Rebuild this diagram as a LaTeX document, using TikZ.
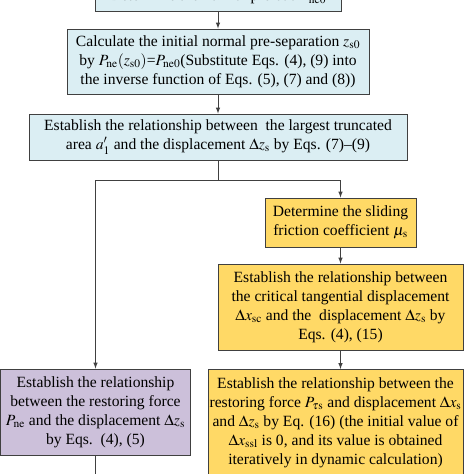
\documentclass[tikz,border=0pt]{standalone}
\usepackage{amsmath}
\usepackage{mathptmx}
\usepackage[no-math]{fontspec}
\setmainfont{Liberation Serif}
\usepackage{tikz}
\usetikzlibrary{calc}
\usepackage{xcolor}
\definecolor{boxblue}{RGB}{219,238,243}
\definecolor{boxyellow}{RGB}{255,217,102}
\definecolor{boxpurple}{RGB}{204,192,218}
\definecolor{edgegray}{RGB}{64,64,64}

\begin{document}
\begin{tikzpicture}[x=1pt,y=-1pt,>=latex]
  \clip (0,0) rectangle (474,474);
  \tikzstyle{box}=[draw=edgegray, line width=1pt, align=center, inner sep=0pt,
    font=\fontsize{15.6}{19}\selectfont]
  \tikzstyle{flow}=[draw=edgegray, line width=1pt]
  \node[box, fill=boxblue, minimum width=246, minimum height=28] (pA) at (218,-3)
    {Determine the normal preload $P_{\mathrm{ne0}}$};
  \node[box, fill=boxblue, minimum width=302, minimum height=65] (pB) at (218,61.5)
    {Calculate the initial normal pre-separation $z_{\mathrm{s0}}$\\
     by $P_{\mathrm{ne}}(z_{\mathrm{s0}})$=$P_{\mathrm{ne0}}$(Substitute Eqs. (4), (9) into\\
     the inverse function of Eqs. (5), (7) and (8))};
  \node[box, fill=boxblue, minimum width=378, minimum height=46] (pC) at (218,137)
    {Establish the relationship between\ \ the largest truncated\\
     area $a_1'$ and the displacement $\Delta z_{\mathrm{s}}$ by Eqs. (7)--(9)};
  \node[box, fill=boxyellow, minimum width=151, minimum height=49] (pD) at (340.5,222.5)
    {Determine the sliding\\ friction coefficient $\mu_{\mathrm{s}}$};
  \node[box, fill=boxyellow, minimum width=245, minimum height=86] (pE) at (340.5,307)
    {Establish the relationship between\\
     the critical tangential displacement\\
     $\Delta x_{\mathrm{sc}}$ and the\ \ displacement $\Delta z_{\mathrm{s}}$ by\\
     Eqs. (4), (15)};
  \node[box, fill=boxyellow, minimum width=255, minimum height=106] (pF) at (335.5,422.5)
    {Establish the relationship between the\\
     restoring force $P_{\tau\mathrm{s}}$ and displacement $\Delta x_{\mathrm{s}}$\\
     and $\Delta z_{\mathrm{s}}$ by Eq. (16) (the initial value of\\
     $\Delta x_{\mathrm{ssl}}$ is 0, and its value is obtained\\
     iteratively in dynamic calculation)};
  \node[box, fill=boxpurple, minimum width=190, minimum height=86] (pG) at (95.5,412)
    {Establish the relationship\\
     between the restoring force\\
     $P_{\mathrm{ne}}$ and the displacement $\Delta z_{\mathrm{s}}$\\
     by Eqs.\ \ (4), (5)};
  \coordinate (pJ) at (218,180);
  \coordinate (pK) at (95.5,480);
  \draw[flow,->] (pA) -- (pB);
  \draw[flow,->] (pB) -- (pC);
  \draw[flow] (pC) -- (pJ);
  \draw[flow,->] (pJ) -| (pD);
  \draw[flow,->] (pJ) -| (pG);
  \draw[flow,->] (pD) -- (pE);
  \draw[flow,->] (pE) -- (pF.north -| pE);
  \draw[flow] (pG) -- (pK);
\end{tikzpicture}
\end{document}
